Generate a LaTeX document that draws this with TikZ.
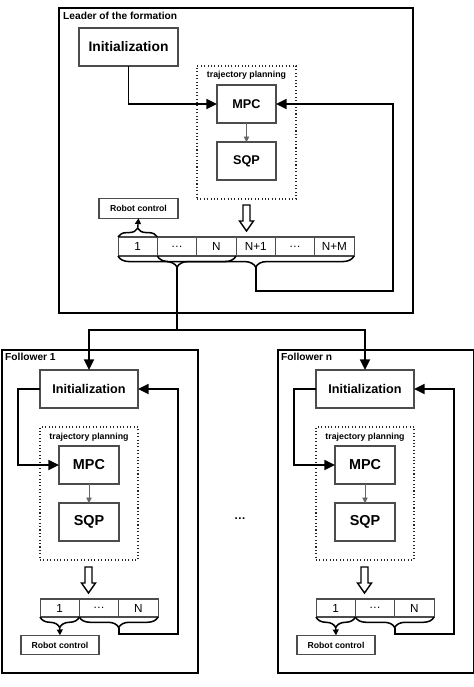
\documentclass[tikz,border=0pt]{standalone}
\usepackage{fontspec}
\setmainfont{Liberation Sans}
\usetikzlibrary{arrows.meta,positioning,calc,decorations.pathreplacing}

\begin{document}
\begin{tikzpicture}[
    x=0.03cm, y=-0.03cm,
    frame/.style={draw, line width=1.6pt},
    title/.style={font=\fontsize{8.7}{10}\selectfont\bfseries, anchor=west, inner sep=0pt},
    blk/.style={draw=black!70, line width=0.9pt, fill=white, inner sep=0pt, outer sep=0pt,
                font=\fontsize{10.8}{12}\selectfont\bfseries},
    fblk/.style={blk, font=\fontsize{12.3}{14}\selectfont\bfseries},
    plan/.style={draw=black!85, line width=0.9pt, dotted, inner sep=0pt},
    ptext/.style={font=\fontsize{7.5}{9}\selectfont\bfseries, inner sep=0pt},
    cell/.style={draw=black!70, line width=0.9pt, inner sep=0pt, outer sep=0pt,
                 minimum width=1.18cm, font=\fontsize{10}{12}\selectfont},
    ctrl/.style={draw=black!70, line width=0.9pt, inner sep=0pt, outer sep=0pt,
                 minimum height=0.58cm, font=\fontsize{7.4}{9}\selectfont\bfseries},
    arr/.style={-{Triangle[length=9pt,width=8.5pt]}, line width=1.6pt},
    sarr/.style={-{Triangle[length=5pt,width=5pt]}, line width=1.2pt},
    tarr/.style={-{Triangle[length=4.5pt,width=4.5pt]}, line width=0.4pt, draw=black!60},
    brc/.style={decorate, decoration={brace, amplitude=#1}, line width=1.3pt},
    hollowdown/.pic={
      \draw[line width=1.2pt, fill=white] (-3.5,0) -- (3.5,0) -- (3.5,16) -- (7,16)
        -- (0,26) -- (-7,16) -- (-3.5,16) -- cycle;
    },
]
\useasboundingbox (0,0) rectangle (474,687);

% leader
\draw[frame] (59,8) rectangle (413,313);
\node[title] (ltitle) at (63,16) {Leader of the formation};
\node[blk, font=\fontsize{11.8}{14}\selectfont\bfseries, minimum width=2.97cm,
      minimum height=1.14cm] (linit) at (128.5,47) {Initialization};
\node[plan, minimum width=2.97cm, minimum height=3.99cm] (lplan) at (246.5,132.5) {};
\node[ptext] (lptext) at (246.5,75) {trajectory planning};
\node[blk, minimum width=1.77cm, minimum height=1.14cm] (lmpc) at (246.5,104) {MPC};
\node[blk, minimum width=1.77cm, minimum height=1.14cm] (lsqp) at (246.5,161) {SQP};
\draw[tarr] (lmpc) -- (lsqp);
\pic at (246.5,205) {hollowdown};

\node[cell, minimum height=0.57cm] (lc1) at (137.7,246.5) {1};
\node[cell, minimum height=0.57cm, right=0pt of lc1] (lc2) {\ldots};
\node[cell, minimum height=0.57cm, right=0pt of lc2] (lc3) {N};
\node[cell, minimum height=0.57cm, right=0pt of lc3] (lc4) {N+1};
\node[cell, minimum height=0.57cm, right=0pt of lc4] (lc5) {\ldots};
\node[cell, minimum height=0.57cm, right=0pt of lc5] (lc6) {N+M};
\node[ctrl, minimum width=2.37cm] (lctrl) at (138.5,208.5) {Robot control};

\draw[brc=7.5pt] (lc1.north west) -- (lc1.north east);
\path (lc1.north) ++(0,-9) coordinate (lup);
\draw[sarr] (lup) -- (lctrl.south);
\draw[brc=9.5pt] (lc3.south east) -- (lc1.south west);
\draw[brc=9.5pt] (lc6.south east) -- (lc2.south west);

\draw[arr] (linit.south) |- (lmpc.west);
\coordinate (lfb) at ($(lc2.south west)!0.5!(lc6.south east)+(0,11)$);
\coordinate (lturn) at (393,291);
\draw[arr] (lfb) |- (lturn) |- (lmpc.east);

% follower 1
\draw[frame] (2,350) rectangle (198,673);
\node[title] (f1title) at (5,357) {Follower 1};
\node[blk, minimum width=2.94cm, minimum height=1.14cm] (f1init) at (89,389) {Initialization};
\node[plan, minimum width=2.94cm, minimum height=3.99cm] (f1plan) at (89,493.5) {};
\node[ptext] (f1ptext) at (89,437) {trajectory planning};
\node[fblk, minimum width=1.8cm, minimum height=1.14cm] (f1mpc) at (89,465) {MPC};
\node[fblk, minimum width=1.8cm, minimum height=1.14cm] (f1sqp) at (89,522) {SQP};
\draw[tarr] (f1mpc) -- (f1sqp);
\pic at (88.5,567) {hollowdown};

\node[cell, minimum height=0.54cm] (f1c1) at (59.7,608) {1};
\node[cell, minimum height=0.54cm, right=0pt of f1c1] (f1c2) {\ldots};
\node[cell, minimum height=0.54cm, right=0pt of f1c2] (f1c3) {N};
\node[ctrl, minimum width=2.34cm] (f1ctrl) at (60,645) {Robot control};

\draw[brc=9pt] (f1c1.south east) -- (f1c1.south west);
\draw[brc=9pt] (f1c3.south east) -- (f1c2.south west);
\path (f1c1.south) ++(0,10.5) coordinate (f1down);
\draw[sarr] (f1down) -- (f1ctrl.north);
\path (f1c2.south east) ++(0,10.5) coordinate (f1fb);
\coordinate (f1turn) at (178,634);
\draw[arr] (f1fb) |- (f1turn) |- (f1init.east);
\coordinate (f1left) at (18,389);
\draw[arr] (f1init.west) -- (f1left) |- (f1mpc.west);

\node[font=\fontsize{10}{12}\selectfont\bfseries, anchor=base] (dots) at (240,519) {\ldots};

% follower n
\begin{scope}[xshift=8.28cm]
  \draw[frame] (2,350) rectangle (198,673);
  \node[title] (fntitle) at (5,357) {Follower n};
  \node[blk, minimum width=2.94cm, minimum height=1.14cm] (fninit) at (89,389) {Initialization};
  \node[plan, minimum width=2.94cm, minimum height=3.99cm] (fnplan) at (89,493.5) {};
  \node[ptext] (fnptext) at (89,437) {trajectory planning};
  \node[fblk, minimum width=1.8cm, minimum height=1.14cm] (fnmpc) at (89,465) {MPC};
  \node[fblk, minimum width=1.8cm, minimum height=1.14cm] (fnsqp) at (89,522) {SQP};
  \draw[tarr] (fnmpc) -- (fnsqp);
  \pic at (88.5,567) {hollowdown};

  \node[cell, minimum height=0.54cm] (fnc1) at (59.7,608) {1};
  \node[cell, minimum height=0.54cm, right=0pt of fnc1] (fnc2) {\ldots};
  \node[cell, minimum height=0.54cm, right=0pt of fnc2] (fnc3) {N};
  \node[ctrl, minimum width=2.34cm] (fnctrl) at (60,645) {Robot control};

  \draw[brc=9pt] (fnc1.south east) -- (fnc1.south west);
  \draw[brc=9pt] (fnc3.south east) -- (fnc2.south west);
  \path (fnc1.south) ++(0,10.5) coordinate (fndown);
  \draw[sarr] (fndown) -- (fnctrl.north);
  \path (fnc2.south east) ++(0,10.5) coordinate (fnfb);
  \coordinate (fnturn) at (178,634);
  \draw[arr] (fnfb) |- (fnturn) |- (fninit.east);
  \coordinate (fnleft) at (18,389);
  \draw[arr] (fninit.west) -- (fnleft) |- (fnmpc.west);
\end{scope}

% leader to followers
\path (lc2.south) ++(0,11) coordinate (lout);
\coordinate (lsplit) at (lout |- 0,330);
\draw[line width=1.6pt] (lout) -- (lsplit);
\draw[arr] (lsplit) -| (f1init.north);
\draw[arr] (lsplit) -| (fninit.north);
\end{tikzpicture}
\end{document}
